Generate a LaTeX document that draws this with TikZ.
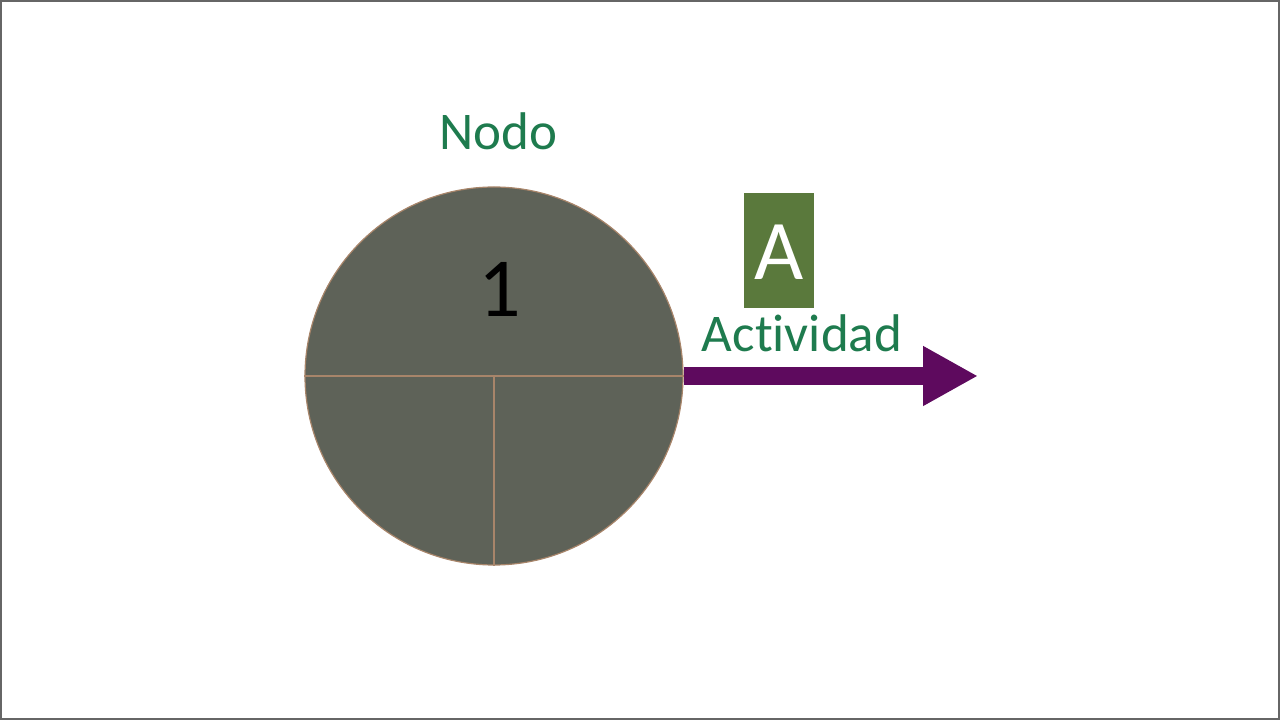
\documentclass[tikz,border=0pt]{standalone}
\usepackage{fontspec}
\setmainfont{Carlito}[Ligatures=NoCommon]
\usetikzlibrary{arrows.meta,positioning}
\definecolor{verdetexto}{HTML}{1E7B4E}
\definecolor{verdecaja}{HTML}{5A793C}
\definecolor{grisnodo}{HTML}{5E6258}
\definecolor{bordenodo}{HTML}{A8856A}
\definecolor{morado}{HTML}{5E0A5E}
\tikzset{
  etiqueta/.style={text=verdetexto, anchor=base, inner sep=0pt, font=\fontsize{53}{53}\selectfont},
  flecha/.style={morado, line width=18pt, -{Triangle[length=55pt,width=56pt]}}
}
\begin{document}
\begin{tikzpicture}[x=1pt,y=1pt]
         \useasboundingbox (0,0) rectangle (1280,720);
         \draw[gray!80!black, line width=2pt] (1,1) rectangle (1279,719);
         %nodo
         \node[circle, draw=bordenodo, line width=1.2pt, fill=grisnodo, minimum size=378pt, inner sep=0pt] (nodo) at (494,344) {};
         \draw[bordenodo, line width=1.2pt] (nodo.west) -- (nodo.east);
         \draw[bordenodo, line width=1.2pt] (nodo.center) -- (nodo.south);
         \node[anchor=base, inner sep=0pt, font=\fontsize{84}{84}\selectfont] (num) at (500,403) {1};
         \node[etiqueta] (titulo) at (498,570) {Nodo};
         %actividad
         \coordinate (fin) at (978,344);
         \draw[flecha] (nodo.east) -- (fin);
         \node[fill=verdecaja, minimum width=70pt, minimum height=115pt, inner sep=0pt] (caja) at (779,469.5) {};
         \node[text=white, anchor=base, inner sep=0pt, font=\fontsize{85}{85}\selectfont] (letra) at (779,440) {A};
         \node[etiqueta] (act) at (802,368) {Actividad};
       \end{tikzpicture}
\end{document}
